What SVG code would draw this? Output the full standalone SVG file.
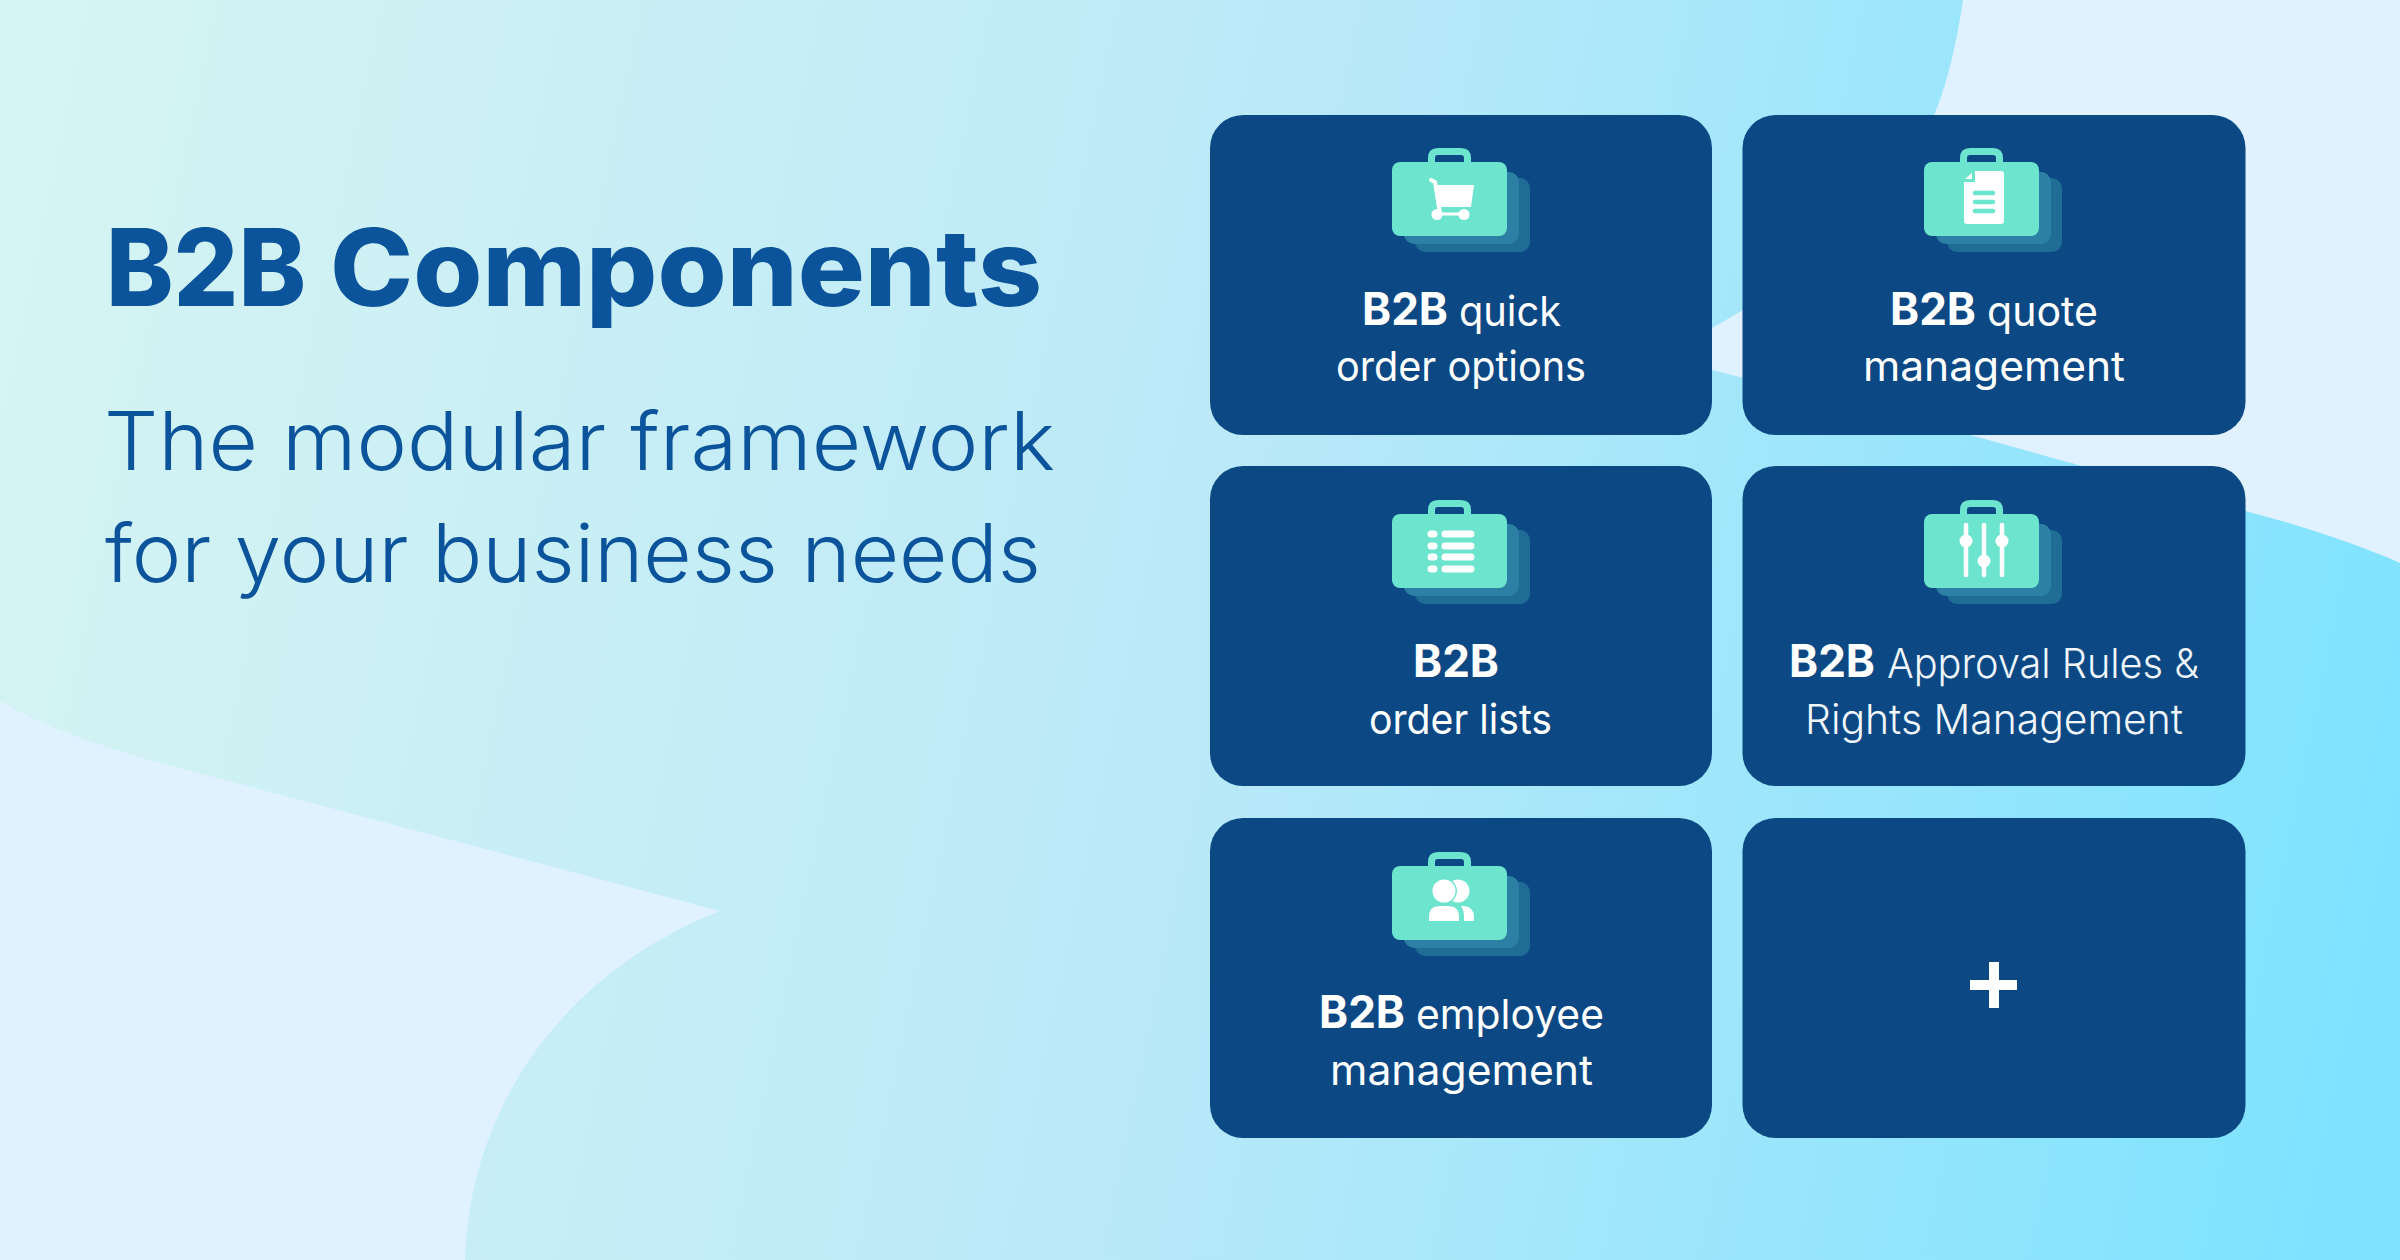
<svg xmlns="http://www.w3.org/2000/svg" xmlns:xlink="http://www.w3.org/1999/xlink" width="2400" height="1260" viewBox="0 0 2400 1260">
<style>
text{font-family:"Inter","Open Sans","Liberation Sans",sans-serif}
.title{font-size:107px;font-weight:800;fill:#0B539A}
.sub{font-size:81px;font-weight:300;fill:#0B539A}
.card{fill:#0B4884}
.b{font-size:45px;font-weight:700;fill:#fff}
.r{font-size:41px;font-weight:400;fill:#fff}
.l{font-size:41px;font-weight:300;fill:#F0F6FB}
.g{fill:#fff}
.m{stroke:#6DE4CE;stroke-width:4.500;stroke-linecap:round;fill:none}
.w{stroke:#fff;fill:none;stroke-linecap:round}
</style>
<defs>
<linearGradient id="bg" gradientUnits="userSpaceOnUse" x1="0" y1="300" x2="2400" y2="800">
<stop offset="0" stop-color="#D5F4F3"/><stop offset="0.5" stop-color="#BBE9F8"/><stop offset="1" stop-color="#7FE3FF"/>
</linearGradient>
<g id="case">
<rect x="23" y="16" width="115" height="74" rx="10" fill="#1F6C94"/>
<rect x="12" y="10" width="115" height="72" rx="10" fill="#2C80A4"/>
<path d="M39.5 2V-4Q39.5-10.5 46-10.5H69Q75.5-10.5 75.5-4V2" fill="none" stroke="#6DE4CE" stroke-width="7"/>
<rect width="115" height="74" rx="8" fill="#6DE4CE"/>
</g>
</defs>
<rect width="2400" height="1260" fill="#E0F1FF"/>
<path fill="url(#bg)" d="M0 0H1963C1957 40 1948 85 1930 125C1880 210 1800 285 1680 345L1680 362L1967 434L2060 460C2090 468 2170 490 2245 511C2300 525 2360 545 2400 563V1260H465C470 1100 570 970 720 911L153 761C100 745 50 730 0 701Z"/>

<g id="heading">
<text class="title" x="106" y="306" textLength="200" lengthAdjust="spacingAndGlyphs">B2B</text>
<text class="title" x="330" y="306" textLength="712" lengthAdjust="spacingAndGlyphs">Components</text>
<text class="sub" x="104" y="470" textLength="951" lengthAdjust="spacingAndGlyphs">The modular framework</text>
<text class="sub" x="105" y="582" textLength="936" lengthAdjust="spacingAndGlyphs">for your business needs</text>
</g>

<g id="node-quick-order">
<rect class="card" x="1210" y="115" width="502" height="320" rx="33"/>
<use href="#case" x="1392" y="162"/>
<path class="w" stroke-width="4" d="M1431 180L1435 182L1440 213"/>
<path class="g" d="M1434 185H1474L1471 207H1437Z"/>
<path class="w" stroke-width="3" d="M1437 214H1464"/>
<circle class="g" cx="1437" cy="214.500" r="5.500"/><circle class="g" cx="1464" cy="214.500" r="5.500"/>
<text class="b" x="1362" y="325" textLength="86" lengthAdjust="spacingAndGlyphs">B2B</text>
<text class="r" x="1459" y="326" textLength="102" lengthAdjust="spacingAndGlyphs">quick</text>
<text class="r" x="1336" y="381" textLength="250" lengthAdjust="spacingAndGlyphs">order options</text>
</g>

<g id="node-quote">
<rect class="card" x="1742.500" y="115" width="503" height="320" rx="33"/>
<use href="#case" x="1924" y="162"/>
<path class="g" d="M1975 171H2001Q2004 171 2004 174V221Q2004 224 2001 224H1967Q1964 224 1964 221V182H1975Z"/>
<path class="g" d="M1972 173V179H1965Z"/>
<path class="m" d="M1975 193H1993M1975 202H1993M1975 211H1993"/>
<text class="b" x="1890" y="325" textLength="86" lengthAdjust="spacingAndGlyphs">B2B</text>
<text class="r" x="1987" y="326" textLength="111" lengthAdjust="spacingAndGlyphs">quote</text>
<text class="r" x="1863" y="381" textLength="262" lengthAdjust="spacingAndGlyphs">management</text>
</g>

<g id="node-order-lists">
<rect class="card" x="1210" y="466" width="502" height="320" rx="33"/>
<use href="#case" x="1392" y="514"/>
<path class="w" stroke-width="7" d="M1431 534H1434M1431 546H1434M1431 557H1434M1431 569H1434M1445 534H1471M1445 546H1471M1445 557H1471M1445 569H1471"/>
<text class="b" x="1413" y="677" textLength="86" lengthAdjust="spacingAndGlyphs">B2B</text>
<text class="r" x="1369" y="734" textLength="183" lengthAdjust="spacingAndGlyphs">order lists</text>
</g>

<g id="node-approval">
<rect class="card" x="1742.500" y="466" width="503" height="320" rx="33"/>
<use href="#case" x="1924" y="514"/>
<path class="w" stroke-width="4.500" d="M1966 525V575M1984 525V575M2002 525V575"/>
<circle class="g" cx="1966" cy="541" r="6.500"/><circle class="g" cx="1984" cy="561" r="6.500"/><circle class="g" cx="2002" cy="541" r="6.500"/>
<text class="b" x="1789" y="677" textLength="86" lengthAdjust="spacingAndGlyphs">B2B</text>
<text class="l" x="1887" y="678" textLength="312" lengthAdjust="spacingAndGlyphs">Approval Rules &amp;</text>
<text class="l" x="1805" y="734" textLength="378" lengthAdjust="spacingAndGlyphs">Rights Management</text>
</g>

<g id="node-employee">
<rect class="card" x="1210" y="818" width="502" height="320" rx="33"/>
<use href="#case" x="1392" y="866"/>
<circle class="g" cx="1444" cy="891" r="11.500"/>
<path class="g" d="M1452.300 881A11.500 11.500 0 1 1 1452.300 901A13 13 0 0 0 1452.300 881Z"/>
<path class="g" d="M1429 921V917Q1429 906 1440 906H1448Q1459 906 1459 917V921Z"/>
<path class="g" d="M1461 906H1464Q1474 907 1474 917V921H1464V917Q1464 910 1461 906Z"/>
<text class="b" x="1319" y="1028" textLength="86" lengthAdjust="spacingAndGlyphs">B2B</text>
<text class="r" x="1416" y="1029" textLength="188" lengthAdjust="spacingAndGlyphs">employee</text>
<text class="r" x="1330" y="1085" textLength="263" lengthAdjust="spacingAndGlyphs">management</text>
</g>

<g id="node-more">
<rect class="card" x="1742.500" y="818" width="503" height="320" rx="33"/>
<path fill="#fff" d="M1989 962H1999V980H2017V990H1999V1008H1989V990H1970V980H1989Z"/>
</g>
</svg>
